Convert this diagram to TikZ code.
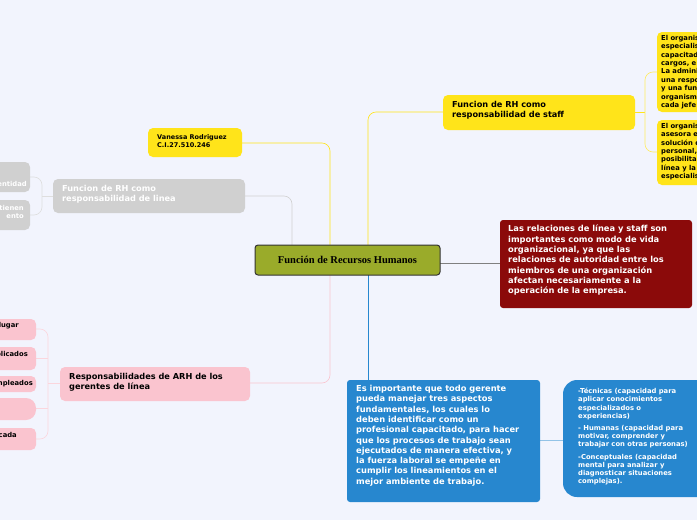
\documentclass[tikz,border=0pt]{standalone}
\usepackage{fontspec}
\setmainfont{DejaVu Sans}
\newfontfamily\titlefont{Liberation Serif}
\begin{document}
\begin{tikzpicture}[x=1pt,y=-1pt,
  box/.style={rounded corners=5pt,anchor=north west,align=left,inner sep=0pt,font=\bfseries\fontsize{6.8}{8.4}\selectfont},
  conn/.style={line width=0.6pt,rounded corners=8pt}]
\useasboundingbox (0,0) rectangle (697,520);
\fill[fill={rgb,255:red,242;green,244;blue,253}] (0,0) rectangle (697,520);
\clip (0,0) rectangle (697,520);
\definecolor{yel}{RGB}{255,228,26}
\definecolor{olive}{RGB}{154,171,42}
\definecolor{dred}{RGB}{139,10,10}
\definecolor{blu}{RGB}{39,135,207}
\definecolor{gry}{RGB}{208,208,208}
\definecolor{pnk}{RGB}{250,196,207}
% connectors
\coordinate (cA) at (330,245); \coordinate (cB) at (368,245);
\coordinate (cC) at (330,275); \coordinate (cD) at (368,275);
\draw[conn,yel] (cA) -- (330,143) -- (242,143);
\draw[conn,yel] (cB) -- (368,112) -- (443,112);
\draw[conn,yel] (635,112) -- (645,112);
\draw[conn,yel!70] (657,72) -- (645,72) -- (645,152) -- (657,152);
\draw[conn,gry] (292,245) -- (292,196) -- (245,196);
\draw[conn,gry!70] (53,196) -- (42,196);
\draw[conn,gry!70] (30,177) -- (42,177) -- (42,215) -- (30,215);
\draw[conn,pnk] (cC) -- (330,383) -- (250,383);
\draw[conn,pnk!70] (60,383) -- (48,383);
\draw[conn,pnk!70] (36,329) -- (48,329) -- (48,439) -- (36,439);
\draw[conn,pnk!70] (36,358) -- (48,358); \draw[conn,pnk!70] (36,408) -- (48,408);
\draw[conn,blu] (cD) -- (368,380);
\draw[conn,blu!50] (540,440) -- (563,440);
\draw[line width=0.5pt,gray] (440,263) -- (500,263);
% center
\node[draw=black!80,line width=1pt,fill=olive,rounded corners=3pt,minimum width=185pt,minimum height=30pt,font=\titlefont\bfseries\fontsize{10.5}{12}\selectfont] (c) at (347.5,260) {Función de Recursos Humanos};
% yellow
\fill[yel,rounded corners=5pt] (148,128) rectangle (242,157);
\node[box,font=\bfseries\fontsize{6.5}{8}\selectfont] (v) at (157,134) {Vanessa Rodriguez\\C.I.27.510.246};
\fill[yel,rounded corners=5pt] (443,95) rectangle (635,130);
\node[box,font=\bfseries\fontsize{8.2}{10}\selectfont] (s) at (452,101) {Funcion de RH como\\responsabilidad de staff};
\fill[yel,rounded corners=5pt] (657,32) rectangle (720,112);
\node[box] (y1) at (661,35) {El organismo\\especialista\\capacitado\\cargos, e\\La administ\\una respon\\y una funci\\organismo\\cada jefe};
\fill[yel,rounded corners=5pt] (657,120) rectangle (720,185);
\node[box] (y2) at (661,123) {El organismo\\asesora e\\solución d\\personal,\\posibilita\\línea y la\\especialista};
% red
\fill[dred,rounded corners=3pt] (500,220) rectangle (692,308);
\node[box,white,font=\bfseries\fontsize{8.3}{10.3}\selectfont] (r) at (508,225) {Las relaciones de línea y staff son\\importantes como modo de vida\\organizacional, ya que las\\relaciones de autoridad entre los\\miembros de una organización\\afectan necesariamente a la\\operación de la empresa.};
% blue
\fill[blu,rounded corners=3pt] (347,380) rectangle (540,502);
\node[box,white,font=\bfseries\fontsize{8.3}{10.3}\selectfont] (b) at (356,385) {Es importante que todo gerente\\pueda manejar tres aspectos\\fundamentales, los cuales lo\\deben identificar como un\\profesional capacitado, para hacer\\que los procesos de trabajo sean\\ejecutados de manera efectiva, y\\la fuerza laboral se empeñe en\\cumplir los lineamientos en el\\mejor ambiente de trabajo.};
\fill[blu,rounded corners=14pt] (563,380) rectangle (720,497);
\node[box,white,font=\bfseries\fontsize{6.8}{8.2}\selectfont] (b2) at (578,388) {-Técnicas (capacidad para\\aplicar conocimientos\\especializados o\\experiencias)\\[4pt]- Humanas (capacidad para\\motivar, comprender y\\trabajar con otras personas)\\[4pt]-Conceptuales (capacidad\\mental para analizar y\\diagnosticar situaciones\\complejas).};
% grey
\fill[gry,rounded corners=5pt] (53,179) rectangle (245,213);
\node[box,white,font=\bfseries\fontsize{8.2}{10}\selectfont] (g) at (62,185) {Funcion de RH como\\responsabilidad de linea};
\fill[gry,rounded corners=5pt] (-20,162) rectangle (30,192);
\node[box,white,anchor=north east,align=right] (g1) at (27,181) {identidad};
\fill[gry,rounded corners=5pt] (-20,200) rectangle (30,230);
\node[box,white,anchor=north east,align=right] (g2) at (24,205) {tienen\\ento};
% pink
\fill[pnk,rounded corners=5pt] (60,367) rectangle (250,401);
\node[box,font=\bfseries\fontsize{8.2}{10}\selectfont] (p) at (69,373) {Responsabilidades de ARH de los\\gerentes de línea};
\fill[pnk,rounded corners=5pt] (-20,319) rectangle (36,340);
\node[box,anchor=north east] (p1) at (19,322) {lugar};
\fill[pnk,rounded corners=5pt] (-20,347) rectangle (36,370);
\node[box,anchor=north east] (p2) at (28,351) {plicados};
\fill[pnk,rounded corners=5pt] (-20,376) rectangle (36,392);
\node[box,anchor=north east] (p3) at (33,380) {mpleados};
\fill[pnk,rounded corners=10pt] (-20,398) rectangle (36,420);
\fill[pnk,rounded corners=5pt] (-20,428) rectangle (36,450);
\node[box,anchor=north east] (p5) at (17,432) {cada};
\end{tikzpicture}
\end{document}
